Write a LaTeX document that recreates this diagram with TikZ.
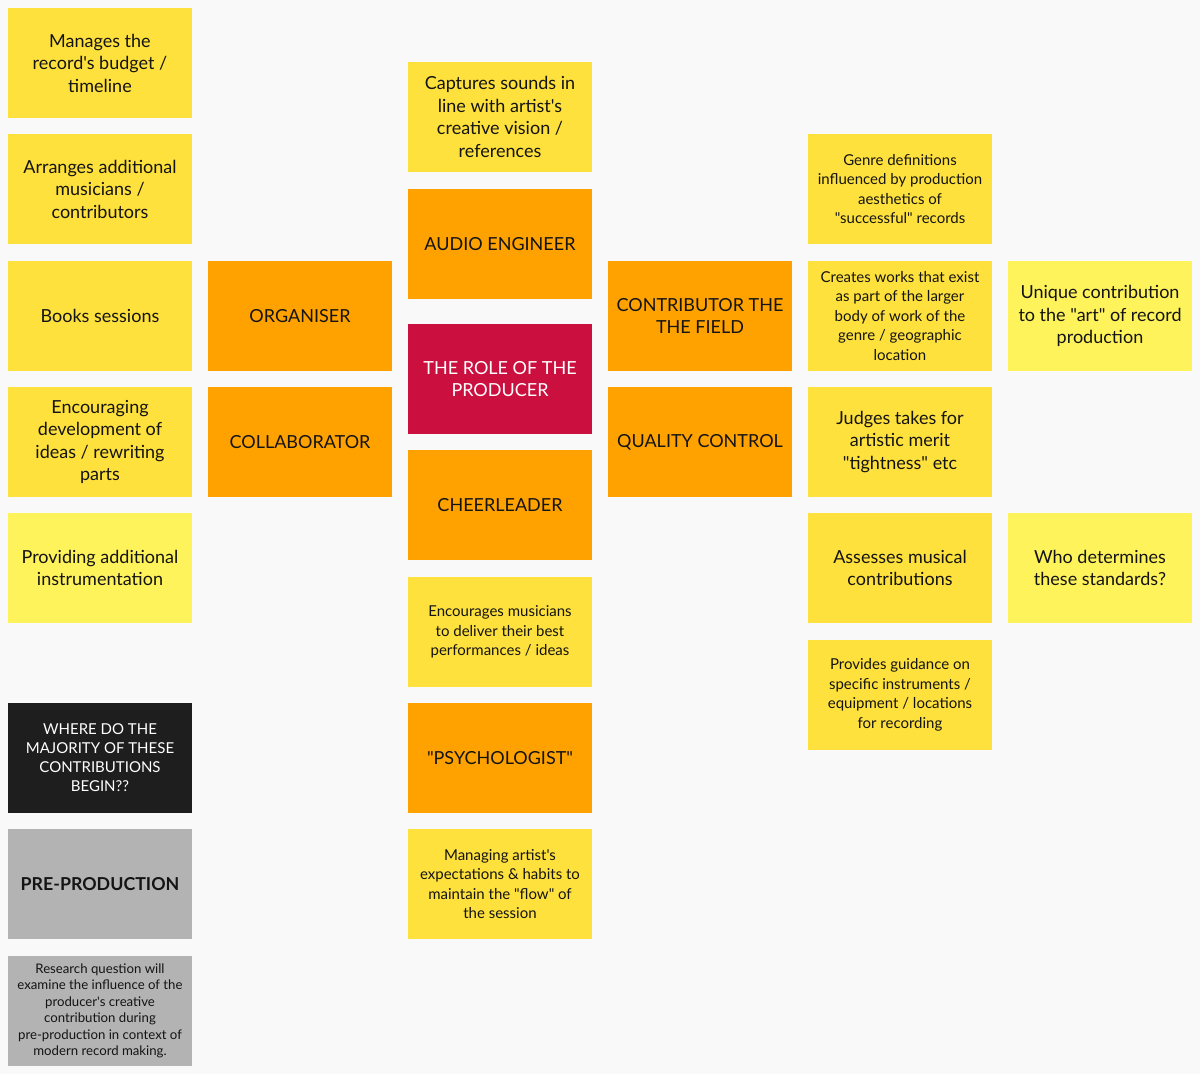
\documentclass[tikz,border=0pt]{standalone}
\usepackage{fontspec}
\setmainfont{Lato}[Ligatures=TeXOff]
\definecolor{bgc}{HTML}{F9F9F9}
\definecolor{yel}{HTML}{FFE13D}
\definecolor{lyel}{HTML}{FFF35C}
\definecolor{org}{HTML}{FFA200}
\definecolor{redc}{HTML}{CB0F3F}
\definecolor{blk}{HTML}{1E1E1E}
\definecolor{gry}{HTML}{B3B3B3}
\definecolor{txt}{HTML}{141414}
\tikzset{
  note/.style={minimum width=184pt, minimum height=110pt, inner sep=0pt, align=center, text=txt},
  ynote/.style={note, fill=yel},
  lnote/.style={note, fill=lyel},
  onote/.style={note, fill=org},
  big/.style={font=\fontsize{18}{22.5}\selectfont},
  small/.style={font=\fontsize{15}{19.5}\selectfont},
  tiny/.style={font=\fontsize{13.2}{16.5}\selectfont},
}
\begin{document}
\begin{tikzpicture}[x=1pt,y=1pt]
\fill[bgc] (0,0) rectangle (1200,-1074);
\useasboundingbox (0,0) rectangle (1200,-1074);
% column 1
\node[ynote,big] (budget) at (100,-63) {Manages the\\record's budget /\\timeline};
\node[ynote,big] (arranges) at (100,-189) {Arranges additional\\musicians /\\contributors};
\node[ynote,big] (books) at (100,-316) {Books sessions};
\node[ynote,big] (encouraging) at (100,-442) {Encouraging\\development of\\ideas / rewriting\\parts};
\node[lnote,big] (providing) at (100,-568) {Providing additional\\instrumentation};
\node[note,fill=blk,text=white,font=\fontsize{15}{19}\selectfont] (where) at (100,-758) {WHERE DO THE\\MAJORITY OF THESE\\CONTRIBUTIONS\\BEGIN??};
\node[note,fill=gry,font=\fontsize{17.8}{22.5}\selectfont\bfseries] (pre) at (100,-884) {PRE-PRODUCTION};
\node[note,fill=gry,tiny] (research) at (100,-1011) {Research question will\\examine the influence of the\\producer's creative\\contribution during\\pre-production in context of\\modern record making.};
% column 2
\node[onote,big] (organiser) at (300,-316) {ORGANISER};
\node[onote,big] (collab) at (300,-442) {COLLABORATOR};
% column 3
\node[ynote,big] (captures) at (500,-117) {Captures sounds in\\line with artist's\\creative vision /\\references};
\node[onote,big] (audio) at (500,-244) {AUDIO ENGINEER};
\node[note,fill=redc,text=white,big] (role) at (500,-379) {THE ROLE OF THE\\PRODUCER};
\node[onote,big] (cheer) at (500,-505) {CHEERLEADER};
\node[ynote,small] (encourages) at (500,-632) {Encourages musicians\\to deliver their best\\performances / ideas};
\node[onote,big] (psych) at (500,-758) {"PSYCHOLOGIST"};
\node[ynote,small] (managing) at (500,-884) {Managing artist's\\expectations \& habits to\\maintain the "flow" of\\the session};
% column 4
\node[onote,big] (contrib) at (700,-316) {CONTRIBUTOR THE\\THE FIELD};
\node[onote,big] (quality) at (700,-442) {QUALITY CONTROL};
% column 5
\node[ynote,small] (genre) at (900,-189) {Genre definitions\\influenced by production\\aesthetics of\\"successful" records};
\node[ynote,small] (creates) at (900,-316) {Creates works that exist\\as part of the larger\\body of work of the\\genre / geographic\\location};
\node[ynote,big] (judges) at (900,-442) {Judges takes for\\artistic merit\\"tightness" etc};
\node[ynote,big] (assesses) at (900,-568) {Assesses musical\\contributions};
\node[ynote,small] (guidance) at (900,-695) {Provides guidance on\\specific instruments /\\equipment / locations\\for recording};
% column 6
\node[lnote,big] (unique) at (1100,-316) {Unique contribution\\to the "art" of record\\production};
\node[lnote,big] (who) at (1100,-568) {Who determines\\these standards?};
\end{tikzpicture}
\end{document}
